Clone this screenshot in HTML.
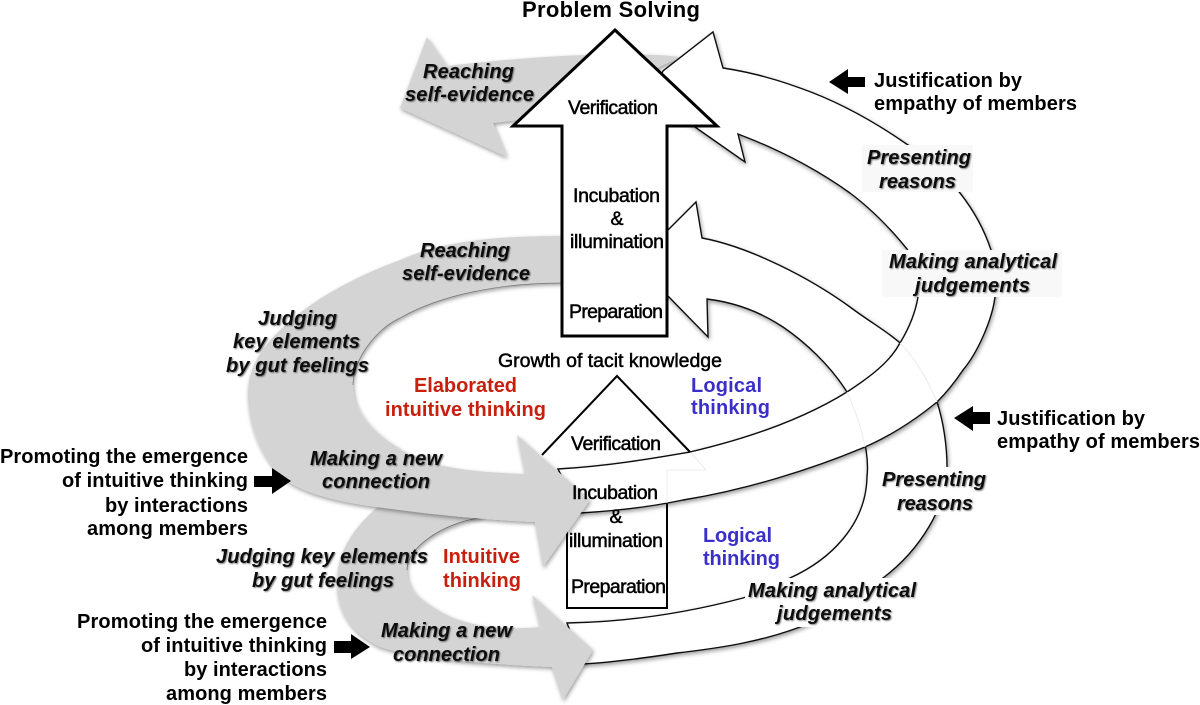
<!DOCTYPE html>
<html><head><meta charset="utf-8"><style>
html,body{margin:0;padding:0;background:#fff}
svg{display:block;filter:blur(.35px)}
text{font-family:"Liberation Sans",sans-serif;font-weight:bold;font-size:20px;fill:#000}
.i{font-style:italic;fill:#0a0a0a}
.s{font-size:19.5px;font-weight:normal;stroke:#000;stroke-width:.5px}
.r{fill:#c8200f}
.b{fill:#3a2fc8}
</style></head><body>
<svg width="1200" height="705" viewBox="0 0 1200 705" xmlns="http://www.w3.org/2000/svg">
<defs>
<filter id="sh" x="-10%" y="-10%" width="120%" height="120%"><feDropShadow dx="1" dy="2" stdDeviation="2" flood-color="#000" flood-opacity=".4"/></filter>
<filter id="ts" x="-10%" y="-30%" width="120%" height="160%"><feDropShadow dx="1" dy="1" stdDeviation=".8" flood-color="#000" flood-opacity=".5"/></filter>
</defs>

<!-- top gray arrow -->
<path filter="url(#sh)" fill="#d4d4d4" d="M680,57 C640,52 560,53 447,66 L427,37 L400,108 L507,157 L493,123 L560,115 Z"/>

<!-- lower white arrow -->
<path filter="url(#sh)" fill="#fff" stroke="#111" stroke-width="1.4" d="M567,623 C630,622 690,612 743,598 C760,592 775,585 790,578 C830,560 866,525 867,477 C870,450 860,420 847,392 C830,365 805,342 783,327 C765,315 740,303 707,299 L708,337 L668,296 L640,262 L668,230 L696,202 L702,238 C750,247 810,278 850,307 C870,322 888,332 900,343 C915,358 928,380 937,402 C943,420 947,445 947,467 C948,505 920,550 883,578 C858,600 830,615 800,627 C760,642 720,648 677,653 C645,658 615,662 583,664 Z"/>

<!-- small growth arrow -->
<path fill="#fff" stroke="#000" stroke-width="2" d="M542,455 L617,376 L691,453"/>
<path fill="#fff" stroke="#000" stroke-width="2" d="M567,503 L667,503 L667,608 L567,608 Z"/>

<!-- upper white arrow -->
<path filter="url(#sh)" fill="#fff" stroke="#111" stroke-width="1.4" d="M558,469 C610,466 655,458 690,452 C750,438 805,418 847,392 C870,377 890,362 900,343 C908,330 915,315 918,297 C920,278 917,262 907,249 C890,228 870,208 850,193 C815,168 775,148 738,134 L745,162 L695,127 L650,100 L663,71 L713,32 L723,68 C750,72 778,80 800,88 C840,102 875,122 908,145 C930,160 947,177 960,193 C975,212 985,232 991,250 C998,270 998,283 995,297 C992,320 978,352 963,370 C955,382 945,394 937,402 C915,420 890,436 865,447 C810,470 745,490 683,500 C650,507 615,511 580,513 Z"/>

<!-- faint see-through lines -->
<g fill="none" stroke="#ececec" stroke-width="1">
<path d="M900,343 C915,358 928,380 937,402"/>
<path d="M847,392 C855,410 862,428 865,447"/>
<path d="M691,453 L706,470 L667,470 L667,503"/>
</g>

<!-- gray arrows -->
<path filter="url(#sh)" fill="#d4d4d4" d="M380,505 C350,530 337,555 337,583 C337,615 355,635 380,647 C420,660 490,664 552,667 L563,700 L593,650 L532,595 L540,627 C510,630 470,628 443,613 C420,600 407,590 407,570 C407,548 440,525 480,518 L490,510 Z"/>
<path fill="none" stroke="#666" stroke-width=".7" d="M478,518 C440,525 407,548 407,570"/>
<path filter="url(#sh)" fill="#d4d4d4" d="M600,236 L562,236 C500,236 445,240 400,260 C360,275 325,293 300,313 C265,340 248,365 248,393 C248,430 265,465 290,483 C320,500 360,505 400,510 C445,516 490,520 535,522 L543,567 L590,500 L517,435 L525,474 C480,472 430,470 397,447 C370,430 353,410 353,385 C353,360 375,330 400,318 C440,295 500,283 562,283 L600,283 Z"/>
<path fill="none" stroke="#777" stroke-width=".7" d="M562,283 C500,283 440,295 400,318 C375,330 353,360 353,385"/>

<!-- big arrow -->
<path fill="#fff" stroke="#000" stroke-width="3" d="M615,30 L717,126 L667,126 L667,336 L562,336 L562,126 L513,126 Z"/>

<!-- label backgrounds -->
<rect x="862" y="145" width="111" height="47" fill="#f8f8f8"/>
<rect x="882" y="250" width="180" height="47" fill="#f8f8f8"/>
<rect x="878" y="467" width="112" height="48" fill="#fff"/>
<rect x="745" y="578" width="175" height="49" fill="#fff"/>

<!-- small black arrows -->
<path d="M254,476 H272 V468 L291,481 L272,494 V487 H254 Z"/>
<path d="M334,641 H351 V634 L370,647 L351,659 V653 H334 Z"/>
<path d="M829,82 L848,69 V77 H865 V87 H848 V94 Z"/>
<path d="M954,418 L973,406 V412 H990 V424 H973 V431 Z"/>

<!-- title -->
<text x="522" y="17" textLength="178" lengthAdjust="spacing" style="font-size:22px">Problem Solving</text>

<!-- stage labels -->
<g>
<text class="s" x="568" y="114" textLength="90" lengthAdjust="spacing">Verification</text>
<text class="s" x="573" y="202" textLength="87" lengthAdjust="spacing">Incubation</text>
<text class="s" x="617" y="225" text-anchor="middle">&amp;</text>
<text class="s" x="570" y="248" textLength="94" lengthAdjust="spacing">illumination</text>
<text class="s" x="569" y="318" textLength="94" lengthAdjust="spacing">Preparation</text>
<text class="s" x="498" y="367" textLength="224" lengthAdjust="spacing">Growth of tacit knowledge</text>
<text class="s" x="571" y="450" textLength="90" lengthAdjust="spacing">Verification</text>
<text class="s" x="572" y="499" textLength="86" lengthAdjust="spacing">Incubation</text>
<text class="s" x="616" y="523" text-anchor="middle">&amp;</text>
<text class="s" x="569" y="547" textLength="94" lengthAdjust="spacing">illumination</text>
<text class="s" x="571" y="593" textLength="95" lengthAdjust="spacing">Preparation</text>
</g>

<!-- coloured labels -->
<text class="r" x="414" y="392" textLength="103" lengthAdjust="spacing">Elaborated</text>
<text class="r" x="385" y="416" textLength="161" lengthAdjust="spacing">intuitive thinking</text>
<text class="r" x="443" y="563" textLength="77" lengthAdjust="spacing">Intuitive</text>
<text class="r" x="443" y="587" textLength="78" lengthAdjust="spacing">thinking</text>
<text class="b" x="691" y="392" textLength="71" lengthAdjust="spacing">Logical</text>
<text class="b" x="691" y="414" textLength="79" lengthAdjust="spacing">thinking</text>
<text class="b" x="703" y="542" textLength="69" lengthAdjust="spacing">Logical</text>
<text class="b" x="703" y="565" textLength="77" lengthAdjust="spacing">thinking</text>

<!-- side labels -->
<text x="0" y="463" textLength="248" lengthAdjust="spacing">Promoting the emergence</text>
<text x="62" y="487" textLength="186" lengthAdjust="spacing">of intuitive thinking</text>
<text x="105" y="512" textLength="143" lengthAdjust="spacing">by interactions</text>
<text x="87" y="535" textLength="161" lengthAdjust="spacing">among members</text>
<text x="77" y="628" textLength="250" lengthAdjust="spacing">Promoting the emergence</text>
<text x="141" y="652" textLength="186" lengthAdjust="spacing">of intuitive thinking</text>
<text x="184" y="676" textLength="143" lengthAdjust="spacing">by interactions</text>
<text x="166" y="700" textLength="161" lengthAdjust="spacing">among members</text>
<text x="874" y="87" textLength="148" lengthAdjust="spacing">Justification by</text>
<text x="874" y="110" textLength="203" lengthAdjust="spacing">empathy of members</text>
<text x="997" y="425" textLength="148" lengthAdjust="spacing">Justification by</text>
<text x="997" y="448" textLength="203" lengthAdjust="spacing">empathy of members</text>

<!-- italic process labels -->
<g filter="url(#ts)">
<text class="i" x="423" y="78" textLength="91" lengthAdjust="spacing">Reaching</text>
<text class="i" x="405" y="101" textLength="129" lengthAdjust="spacing">self-evidence</text>
<text class="i" x="420" y="257" textLength="90" lengthAdjust="spacing">Reaching</text>
<text class="i" x="402" y="280" textLength="128" lengthAdjust="spacing">self-evidence</text>
<text class="i" x="258" y="325" textLength="79" lengthAdjust="spacing">Judging</text>
<text class="i" x="233" y="348" textLength="127" lengthAdjust="spacing">key elements</text>
<text class="i" x="226" y="372" textLength="143" lengthAdjust="spacing">by gut feelings</text>
<text class="i" x="310" y="465" textLength="132" lengthAdjust="spacing">Making a new</text>
<text class="i" x="322" y="488" textLength="108" lengthAdjust="spacing">connection</text>
<text class="i" x="216" y="563" textLength="212" lengthAdjust="spacing">Judging key elements</text>
<text class="i" x="252" y="587" textLength="142" lengthAdjust="spacing">by gut feelings</text>
<text class="i" x="381" y="637" textLength="131" lengthAdjust="spacing">Making a new</text>
<text class="i" x="393" y="661" textLength="107" lengthAdjust="spacing">connection</text>
<text class="i" x="867" y="164" textLength="104" lengthAdjust="spacing">Presenting</text>
<text class="i" x="879" y="188" textLength="77" lengthAdjust="spacing">reasons</text>
<text class="i" x="889" y="268" textLength="168" lengthAdjust="spacing">Making analytical</text>
<text class="i" x="915" y="292" textLength="115" lengthAdjust="spacing">judgements</text>
<text class="i" x="882" y="486" textLength="104" lengthAdjust="spacing">Presenting</text>
<text class="i" x="897" y="510" textLength="76" lengthAdjust="spacing">reasons</text>
<text class="i" x="748" y="597" textLength="168" lengthAdjust="spacing">Making analytical</text>
<text class="i" x="777" y="620" textLength="115" lengthAdjust="spacing">judgements</text>
</g>
</svg>
</body></html>
